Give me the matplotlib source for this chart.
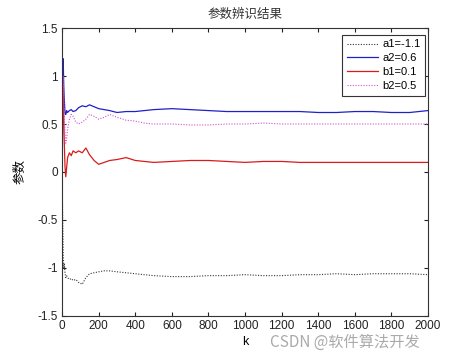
import matplotlib.pyplot as plt

plt.rcParams['font.family'] = ['Liberation Sans', 'Noto Sans CJK SC', 'DejaVu Sans']

# sample steps
k = [0, 3, 6, 9, 12, 16, 20, 25, 30, 40, 50, 60, 75, 90, 110, 130, 150, 175, 200, 230,
     260, 300, 350, 400, 450, 500, 600, 700, 800, 900, 1000, 1100, 1200, 1300, 1400,
     1500, 1600, 1700, 1800, 1900, 2000]

a1 = [0.0, -0.45, -0.85, -1.0, -0.95, -1.05, -1.1, -1.08, -1.1, -1.12, -1.11, -1.13, -1.12,
      -1.15, -1.17, -1.1, -1.06, -1.05, -1.04, -1.03, -1.03, -1.04, -1.05, -1.06, -1.07,
      -1.08, -1.09, -1.09, -1.08, -1.08, -1.07, -1.08, -1.08, -1.07, -1.07, -1.06, -1.07,
      -1.06, -1.06, -1.06, -1.07]

a2 = [0.0, 0.6, 1.18, 0.9, 0.75, 0.62, 0.6, 0.64, 0.62, 0.64, 0.65, 0.63, 0.64, 0.67,
      0.69, 0.68, 0.7, 0.68, 0.66, 0.65, 0.64, 0.62, 0.63, 0.63, 0.64, 0.65, 0.66, 0.65,
      0.64, 0.63, 0.63, 0.63, 0.63, 0.63, 0.62, 0.62, 0.63, 0.63, 0.62, 0.62, 0.64]

b1 = [0.0, 0.5, 0.9, 0.6, 0.3, 0.05, -0.05, 0.05, 0.15, 0.2, 0.17, 0.22, 0.2, 0.22,
      0.2, 0.25, 0.18, 0.12, 0.08, 0.1, 0.12, 0.13, 0.15, 0.12, 0.11, 0.1, 0.11, 0.12,
      0.12, 0.11, 0.1, 0.11, 0.11, 0.1, 0.1, 0.1, 0.1, 0.1, 0.1, 0.1, 0.1]

b2 = [0.0, 0.6, 1.0, 0.8, 0.6, 0.4, 0.3, 0.35, 0.45, 0.55, 0.6, 0.58, 0.52, 0.5, 0.52,
      0.55, 0.6, 0.58, 0.55, 0.57, 0.6, 0.57, 0.54, 0.53, 0.51, 0.5, 0.5, 0.49, 0.49,
      0.5, 0.5, 0.51, 0.5, 0.5, 0.5, 0.5, 0.5, 0.5, 0.5, 0.5, 0.5]

labels = ['a1=-1.1', 'a2=0.6', 'b1=0.1', 'b2=0.5']
xticks = [0, 200, 400, 600, 800, 1000, 1200, 1400, 1600, 1800, 2000]
yticks = [-1.5, -1, -0.5, 0, 0.5, 1, 1.5]

fig = plt.figure(figsize=(4.74, 3.55), dpi=100)
ax = fig.add_axes([0.131, 0.110, 0.772, 0.811])

dots = (0, (1, 1.4))
ax.plot(k, a1, color='#333333', ls=dots, lw=0.8, label=labels[0])
ax.plot(k, a2, color='#2020c8', lw=0.9, label=labels[1])
ax.plot(k, b1, color='#d81c1c', lw=0.9, label=labels[2])
ax.plot(k, b2, color='#d050d0', ls=dots, lw=0.8, label=labels[3])

ax.set_xlim(0, 2000)
ax.set_ylim(-1.5, 1.5)
ax.set_xticks(xticks)
ax.set_yticks(yticks)
ax.set_yticklabels(['-1.5', '-1', '-0.5', '0', '0.5', '1', '1.5'])
ax.tick_params(direction='in', top=True, right=True, labelsize=8.5, length=3, pad=3,
               colors='#222222')
for s in ax.spines.values():
    s.set_linewidth(0.8)
    s.set_color('#333333')

ax.set_title('参数辨识结果', fontsize=9, pad=7, color='#333333')
ax.set_xlabel('k', fontsize=9, labelpad=3)
ax.set_ylabel('参数', fontsize=9, labelpad=8)

leg = ax.legend(loc='upper right', fontsize=8, fancybox=False, framealpha=1,
                edgecolor='#333333', handlelength=2.8, handletextpad=0.4,
                borderpad=0.4, labelspacing=0.35, borderaxespad=0,
                bbox_to_anchor=(0.992, 0.976))
leg.get_frame().set_linewidth(0.8)

fig.text(0.885, 0.022, 'CSDN @软件算法开发', color='#aaaaaa', fontsize=11, ha='right',
         family=['Noto Sans CJK SC', 'DejaVu Sans'])

fig.savefig('out.png', dpi=100)
